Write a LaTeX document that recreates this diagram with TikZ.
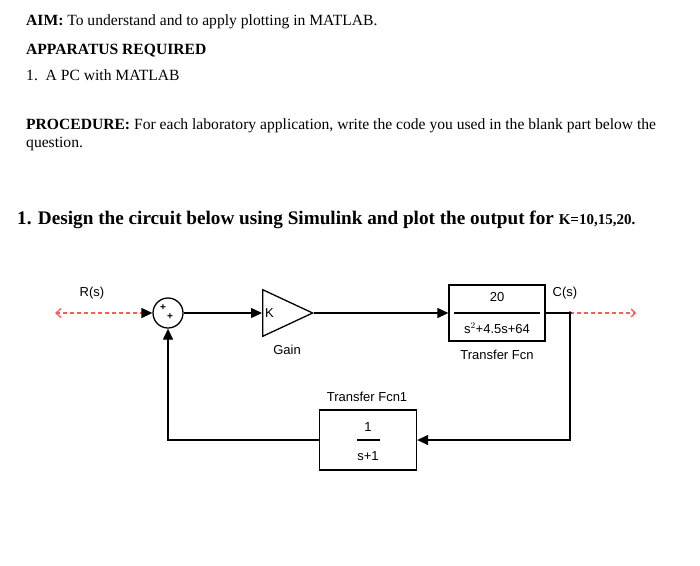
\documentclass[tikz,border=0pt]{standalone}
\usepackage{fontspec}
\setmainfont{Liberation Serif}
\newfontfamily\dsans{Liberation Sans}
\usetikzlibrary{arrows.meta,shapes.geometric}
\begin{document}
\begin{tikzpicture}[x=1pt,y=-1pt,
  txt/.style={anchor=west,inner sep=0,font=\fontsize{15.6}{18}\selectfont},
  lbl/.style={inner sep=0,font=\dsans\fontsize{13}{15}\selectfont},
  blk/.style={draw,line width=1.3pt,fill=white},
  wire/.style={line width=1.3pt,-{Triangle[length=11pt,width=10pt]}},
  sig/.style={draw=red!65,dash pattern=on 4pt off 3pt,line width=1.3pt}]
\useasboundingbox (0,0) rectangle (700,565);
\node[txt] (t1) at (26,22) {\textbf{AIM:} To understand and to apply plotting in MATLAB.};
\node[txt] (t2) at (26,51) {\textbf{APPARATUS REQUIRED}};
\node[txt] (t3) at (26,75) {1.\ \ A PC with MATLAB};
\node[txt] (t4) at (26,126) {\textbf{PROCEDURE:} For each laboratory application, write the code you used in the blank part below the};
\node[txt] (t5) at (26,144) {question.};
\node[txt,font=\bfseries\fontsize{19.2}{22}\selectfont] (t6) at (17,220) {1. Design the circuit below using Simulink and plot the output for {\fontsize{15}{17}\selectfont K=10,15,20.}};
% diagram
\node[blk,circle,minimum size=30pt] (sum) at (168,313) {};
\node[lbl,font=\dsans\bfseries\fontsize{10}{11}\selectfont] at (163,308) {+};
\node[lbl,font=\dsans\bfseries\fontsize{10}{11}\selectfont] at (170,317) {+};
\coordinate (in) at (56,313);
\node[lbl] (rs) at (92,293) {R(s)};
\node[blk,isosceles triangle,isosceles triangle apex angle=50,minimum height=50pt,inner sep=0,anchor=west] (gain) at (262,313) {};
\node[lbl,anchor=west] at (265,313) {K};
\node[lbl] (gl) at (287,350) {Gain};
\node[blk,minimum width=96pt,minimum height=56pt] (tf) at (497,313) {};
\node[lbl] at (497,297) {20};
\draw[line width=1.3pt] (454,313) -- (540,313);
\node[lbl] at (497,328) {s$^2$+4.5s+64};
\node[lbl] (tfl) at (497,355) {Transfer Fcn};
\node[lbl] (cs) at (565,293) {C(s)};
\coordinate (br) at (570,313);
\coordinate (out) at (636,313);
\node[blk,minimum width=97pt,minimum height=60pt] (fb) at (368,440) {};
\node[lbl] at (368,427) {1};
\draw[line width=1.3pt] (357,440) -- (380,440);
\node[lbl] at (368,456) {s+1};
\node[lbl] (fbl) at (367,397) {Transfer Fcn1};
\draw[sig,-{Straight Barb[length=4pt,width=8pt]}] (br) -- (out);
\draw[sig] (in) -- (150,313);
\draw[red!65,line width=1.3pt] (61,308.5)--(56,313)--(61,317.5);
\draw[wire] (148,313) -- (sum.west);
\draw[wire] (sum.east) -- (gain.west);
\draw[wire] (gain.apex) -- (tf.west);
\draw[line width=1.3pt] (tf.east) -- (br);
\fill (br) circle (1.8pt);
\draw[wire] (br) |- (fb.east);
\draw[wire] (fb.west) -| (sum.south);
\end{tikzpicture}
\end{document}
